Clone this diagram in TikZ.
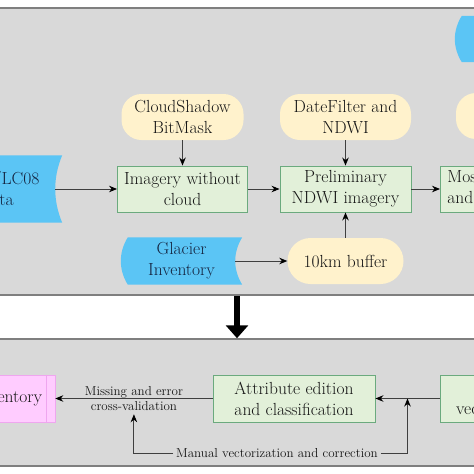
\documentclass[tikz,border=0pt]{standalone}
\usetikzlibrary{positioning,arrows.meta,calc}

\pgfdeclarelayer{panel}
\pgfdeclarelayer{shade}
\pgfsetlayers{panel,shade,main}

\definecolor{stagefill}{HTML}{D9D9D9}
\definecolor{stageline}{HTML}{7F7F7F}
\definecolor{procfill}{HTML}{E2F0D9}
\definecolor{procline}{HTML}{6BAA7E}
\definecolor{condfill}{HTML}{FFF2CC}
\definecolor{datafill}{HTML}{5BC5F5}
\definecolor{datatext}{HTML}{142440}
\definecolor{resultfill}{HTML}{FFCCFF}
\definecolor{resultline}{HTML}{EFA6EF}
\definecolor{inkgray}{HTML}{151515}
\definecolor{flowgray}{HTML}{3F3F3F}

\newcommand\boxfont{\fontsize{17.5}{21}\selectfont}
\newcommand\notefont{\fontsize{13}{15.5}\selectfont}

\tikzset{
  stage/.style={draw=stageline, fill=stagefill, line width=1.5pt, inner sep=0},
  procbox/.style={draw=procline, fill=procfill, line width=0.9pt, align=center, inner sep=0, font=\boxfont, text=inkgray},
  condbox/.style={fill=condfill, rounded corners=20pt, align=center, inner sep=0, font=\boxfont, text=inkgray},
  databox/.style={align=center, inner sep=0, font=\boxfont, text=datatext},
  resultbox/.style={draw=resultline, fill=resultfill, line width=0.6pt, align=center, inner sep=0, font=\boxfont, text=inkgray},
  note/.style={align=center, font=\notefont, text=inkgray, inner sep=3pt},
  flow/.style={draw=flowgray, line width=0.9pt, -{Stealth[length=8pt,width=6.5pt,color=black]}},
  bigflow/.style={draw=black, line width=6pt, -{Triangle[length=13pt,width=22pt]}},
}

% blue data shape behind a node: convex left side, concave right side
\newcommand\datashape[2]{%
  \begin{pgfonlayer}{shade}
    \fill[datafill] (#1.north west) .. controls +(-9.3,#2) and +(-9.3,-#2) .. (#1.south west)
      -- ([xshift=7pt]#1.south east) .. controls +(-9.3,-#2) and +(-9.3,#2) .. ([xshift=7pt]#1.north east) -- cycle;
  \end{pgfonlayer}}

\begin{document}
\begin{tikzpicture}[x=1pt, y=-1pt]
\useasboundingbox (0,0) rectangle (474,474);
\clip (0,0) rectangle (474,474);

% the two stages
\begin{pgfonlayer}{panel}
  \fill[white] (0,0) rectangle (474,474);
  \node[stage, minimum width=510, minimum height=287] (pre) at (237,151.5) {};
  \node[stage, minimum width=510, minimum height=127] (post) at (237,402.5) {};
\end{pgfonlayer}

% upper stage
\node[databox, minimum width=114, minimum height=67] (lc08) at (-2,189) {LE07/LC08\\data};
\node[databox, minimum width=120, minimum height=46] (dem) at (522,39) {SRTM DEM};
\node[databox, minimum width=107, minimum height=47] (glacier) at (181.5,261) {Glacier\\Inventory};
\datashape{lc08}{22}
\datashape{dem}{15}
\datashape{glacier}{15}

\node[condbox, minimum width=122, minimum height=46] (cloudmask) at (182.5,117) {CloudShadow\\BitMask};
\node[condbox, minimum width=131, minimum height=46] (datefilter) at (345.5,117) {DateFilter and\\NDWI};
\node[condbox, minimum width=130, minimum height=46] (otsu) at (521,116) {Otsu method};
\node[condbox, minimum width=116, minimum height=46, rounded corners=23pt] (buffer) at (345.5,261) {10km buffer};

\node[procbox, minimum width=130, minimum height=46] (imgcloud) at (182.5,189) {Imagery without\\cloud};
\node[procbox, minimum width=131, minimum height=46] (prelim) at (345.5,189) {Preliminary\\NDWI imagery};
\node[procbox, minimum height=46, anchor=west, align=left, inner xsep=7pt] (mosaic) at (440,189) {Mosaicking\\and clipping};

\draw[flow] (lc08) -- (imgcloud);
\draw[flow] (imgcloud) -- (prelim);
\draw[flow] (prelim) -- (mosaic);
\draw[flow] (cloudmask) -- (imgcloud);
\draw[flow] (datefilter) -- (prelim);
\draw[flow] (glacier) -- (buffer);
\draw[flow] (buffer) -- (prelim);

\draw[bigflow] (pre) -- (post);

% lower stage
\node[resultbox, minimum width=160, minimum height=47, text width=134, align=right] (result) at (-25,398.5) {Glacier Inventory};
\draw[resultline, line width=0.8pt] ([xshift=-9pt]result.north east) -- ([xshift=-9pt]result.south east);
\node[procbox, minimum width=162, minimum height=47] (attr) at (294,398.5) {Attribute edition\\and classification};
\node[procbox, minimum width=122, minimum height=47] (vect) at (501,398.5) {Raster\\vectorization};

\draw[flow] (vect) -- coordinate[midway] (merge) (attr);
\draw[flow] (attr) -- node[note, midway] (xval) {Missing and error\\cross-validation} (result);
\node[note] (manual) at (277,453) {Manual vectorization and correction};
\draw[flow] (manual) -| (merge);
\draw[flow] (manual) -| (xval);
\end{tikzpicture}
\end{document}
